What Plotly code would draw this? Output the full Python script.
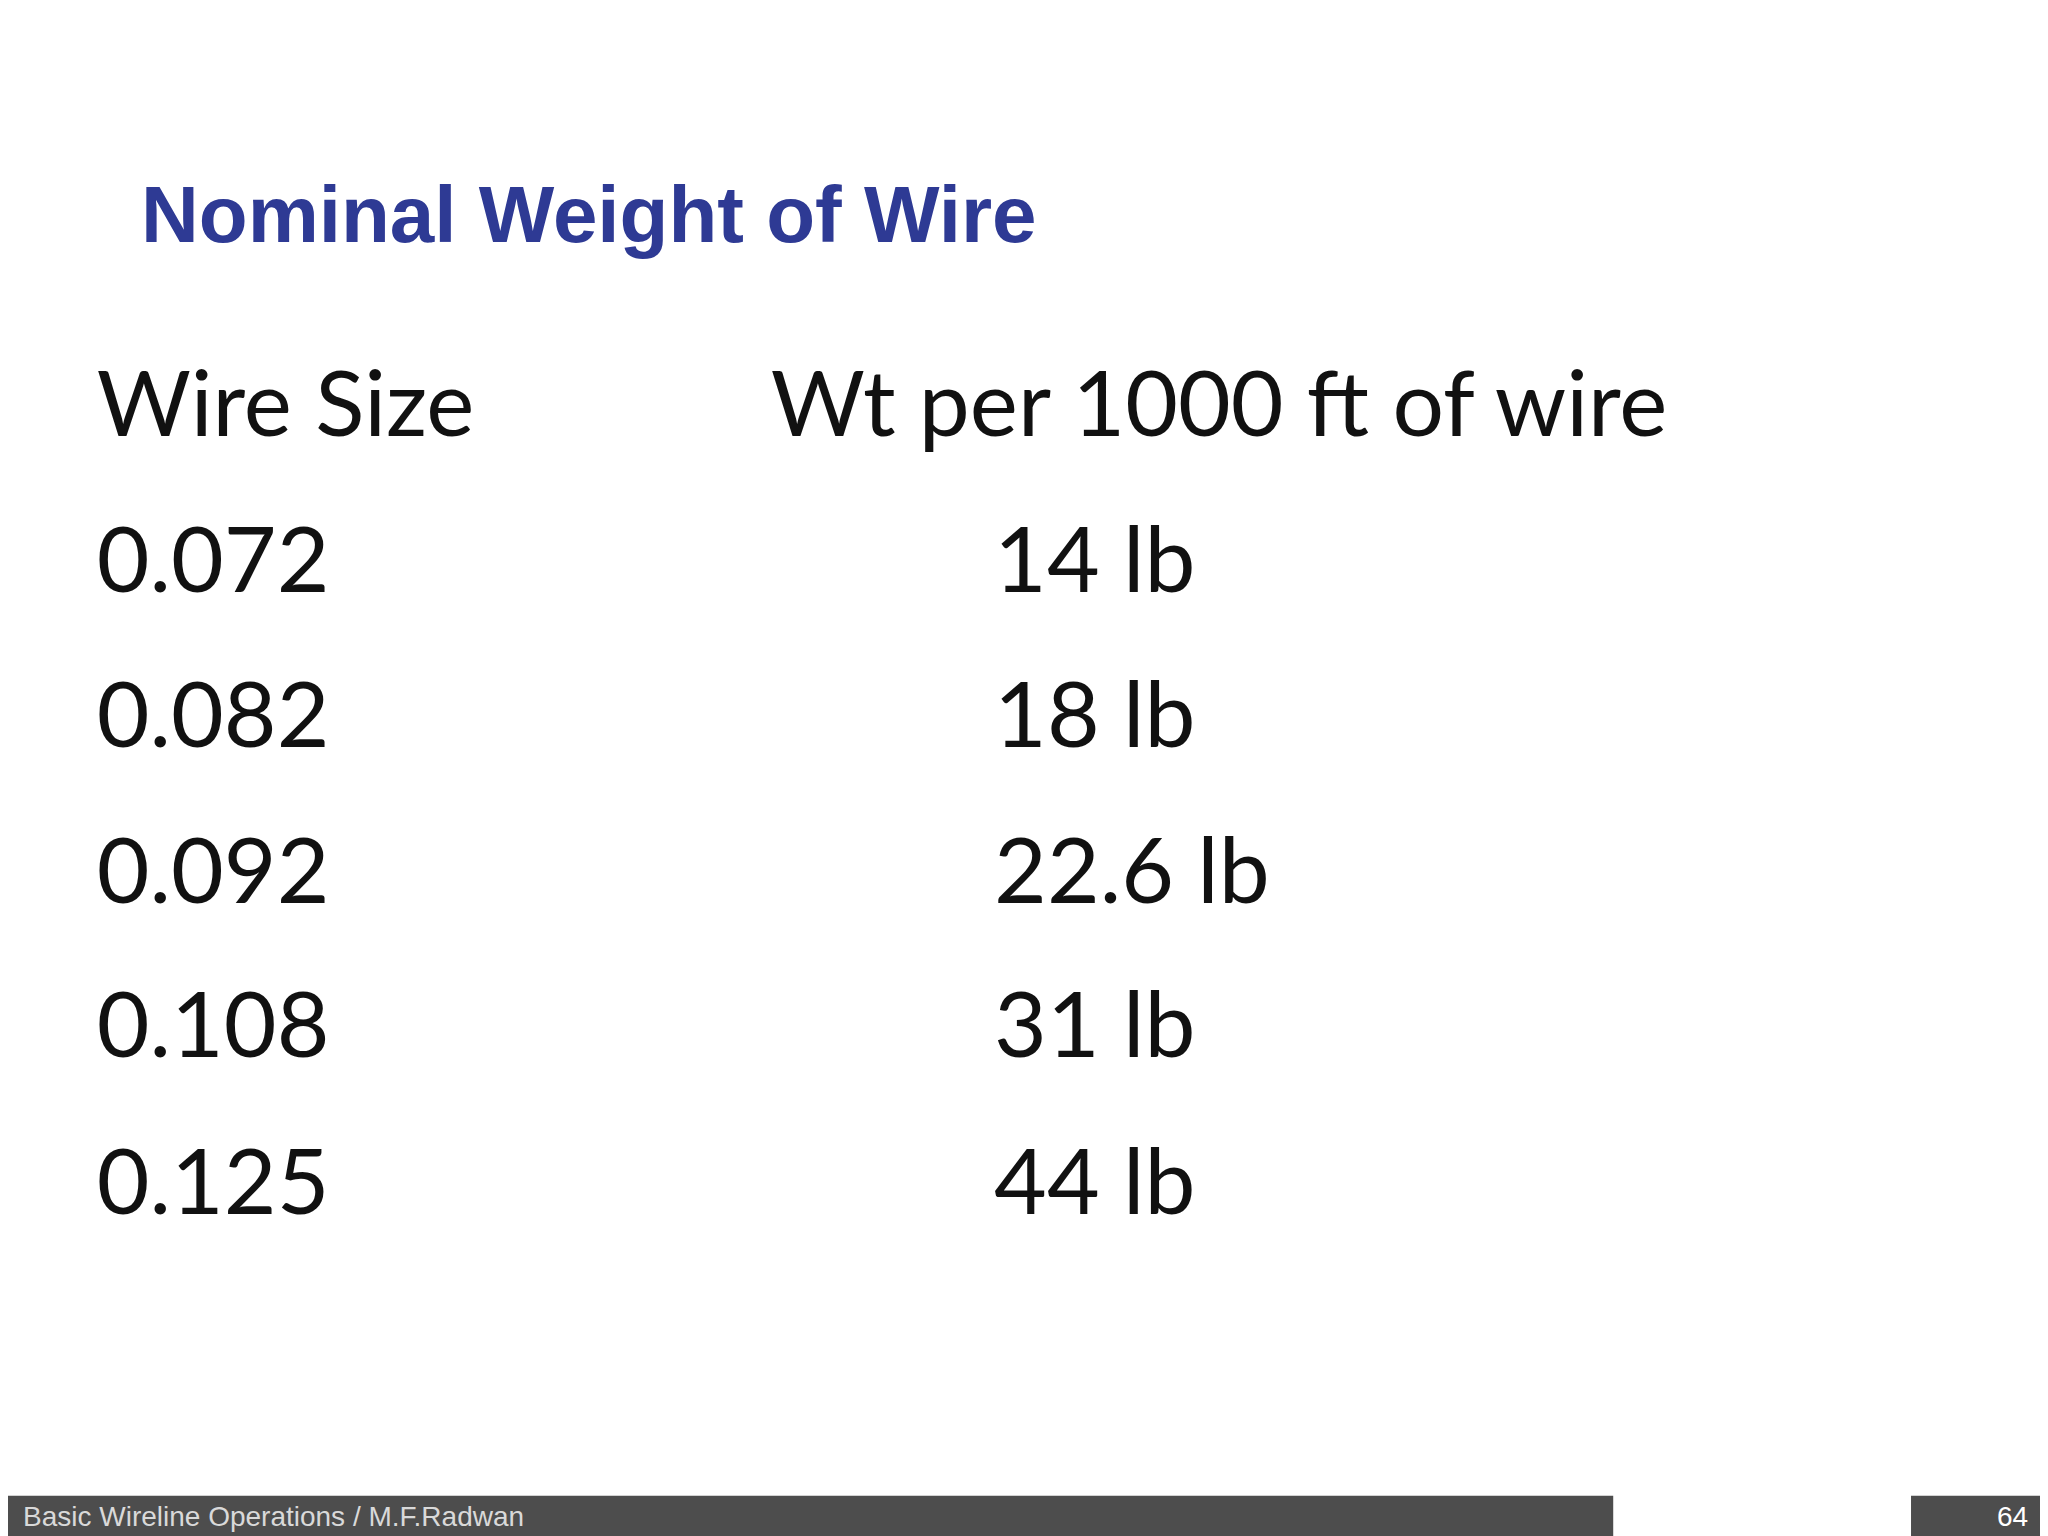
import plotly.graph_objects as go

title = "Nominal Weight of Wire"
headers = ["Wire Size", "Wt per 1000 ft of wire"]
wire_sizes = ["0.072", "0.082", "0.092", "0.108", "0.125"]
weights = ["14 lb", "18 lb", "22.6 lb", "31 lb", "44 lb"]
footer_text = "Basic Wireline Operations / M.F.Radwan"
page_number = "64"

# layout measured in a 1568 x 1176 slide space
W, H = 1568, 1176
header_y = 310
row_y = [430, 548, 668, 786, 906]
col1_x = 68
col2_header_x = 584
col2_x = 755

fig = go.Figure()
txt_font = dict(family="Lato, Open Sans, sans-serif", size=91, color="#111111")

fig.add_trace(go.Scatter(
    x=[col1_x, col2_header_x], y=[header_y, header_y], text=headers,
    mode="text", textposition="middle right", textfont=txt_font, hoverinfo="skip"))
fig.add_trace(go.Scatter(
    x=[col1_x] * len(wire_sizes), y=row_y, text=wire_sizes,
    mode="text", textposition="middle right", textfont=txt_font, hoverinfo="skip"))
fig.add_trace(go.Scatter(
    x=[col2_x] * len(weights), y=row_y, text=weights,
    mode="text", textposition="middle right", textfont=txt_font, hoverinfo="skip"))

fig.add_annotation(x=100, y=158, text="<b>%s</b>" % title, showarrow=False,
                   xanchor="left", yanchor="middle",
                   font=dict(family="Liberation Sans, Arial", size=80, color="#2E3A94"))

# footer bars
fig.add_shape(type="rect", x0=-10, x1=1229, y0=1139, y1=1190, fillcolor="#4D4D4D", line_width=0)
fig.add_shape(type="rect", x0=1457, x1=1580, y0=1139, y1=1190, fillcolor="#4D4D4D", line_width=0)
fig.add_annotation(x=10, y=1155, text=footer_text, showarrow=False, xanchor="left", yanchor="middle",
                   font=dict(family="Liberation Sans, Arial", size=28, color="#D9D9D9"))
fig.add_annotation(x=1548, y=1155, text=page_number, showarrow=False, xanchor="right", yanchor="middle",
                   font=dict(family="Liberation Sans, Arial", size=28, color="#FFFFFF"))

fig.update_xaxes(range=[0, W], visible=False)
fig.update_yaxes(range=[H, 0], visible=False)
fig.update_layout(width=2048, height=1536, margin=dict(l=0, r=0, t=0, b=0),
                  plot_bgcolor="white", paper_bgcolor="white", showlegend=False)

fig.write_html("out.html")
